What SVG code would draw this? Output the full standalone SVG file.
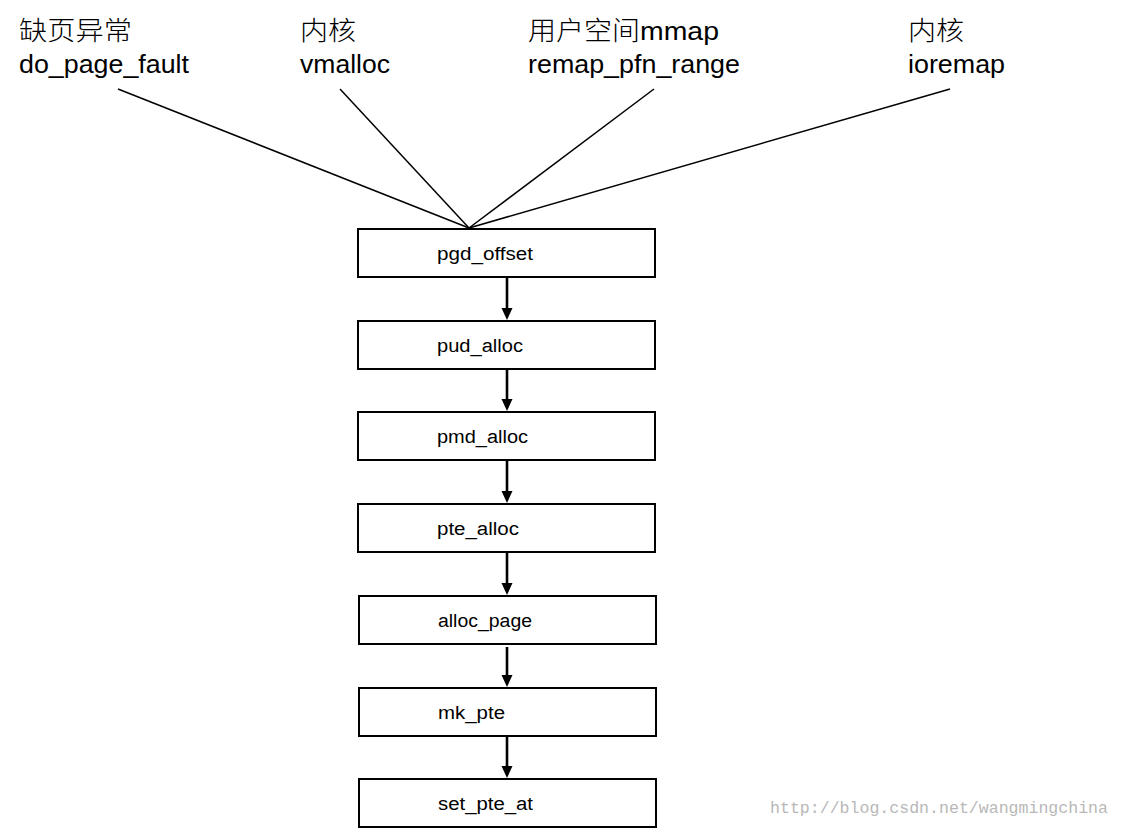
<svg xmlns="http://www.w3.org/2000/svg" width="1121" height="829" viewBox="0 0 1121 829">
<style>
.box{fill:#fff;stroke:#000;stroke-width:2}
.lbl{font-family:"Liberation Sans","Noto Sans CJK SC",sans-serif;font-size:18px;fill:#000}
.top{font-family:"Liberation Sans","Noto Sans CJK SC",sans-serif;font-size:25px;fill:#000}
.cjk{font-family:"Noto Sans CJK SC",sans-serif;font-size:26px;font-weight:300;fill:#000}
.src{stroke:#000;stroke-width:1.5;fill:none}
.shaft{stroke:#000;stroke-width:2.6;fill:none}
.head{fill:#000}
</style>
<rect width="1121" height="829" fill="#fff"/>
<g id="labels">
<text class="cjk" x="19" y="40" textLength="113" lengthAdjust="spacingAndGlyphs">缺页异常</text>
<text class="top" x="19" y="73" textLength="170" lengthAdjust="spacingAndGlyphs">do_page_fault</text>
<text class="cjk" x="300" y="40" textLength="56" lengthAdjust="spacingAndGlyphs">内核</text>
<text class="top" x="300" y="73" textLength="90" lengthAdjust="spacingAndGlyphs">vmalloc</text>
<text x="528" y="40"><tspan class="cjk" textLength="112" lengthAdjust="spacingAndGlyphs">用户空间</tspan><tspan class="top" textLength="79" lengthAdjust="spacingAndGlyphs">mmap</tspan></text>
<text class="top" x="528" y="73" textLength="212" lengthAdjust="spacingAndGlyphs">remap_pfn_range</text>
<text class="cjk" x="908" y="40" textLength="56" lengthAdjust="spacingAndGlyphs">内核</text>
<text class="top" x="908" y="73" textLength="97" lengthAdjust="spacingAndGlyphs">ioremap</text>
</g>
<g id="connectors">
<line class="src" x1="118" y1="89" x2="469" y2="228"/>
<line class="src" x1="340" y1="89" x2="469" y2="228"/>
<line class="src" x1="654" y1="89" x2="469" y2="228"/>
<line class="src" x1="950" y1="89" x2="469" y2="228"/>
<path class="shaft" d="M507,278 V310"/><path class="head" d="M501.5,308 L512.5,308 L507,320 Z"/>
<path class="shaft" d="M507,370 V402"/><path class="head" d="M501.5,399 L512.5,399 L507,411 Z"/>
<path class="shaft" d="M507,461 V494"/><path class="head" d="M501.5,491 L512.5,491 L507,503 Z"/>
<path class="shaft" d="M507,553 V586"/><path class="head" d="M501.5,583 L512.5,583 L507,595 Z"/>
<path class="shaft" d="M507,647 V678"/><path class="head" d="M501.5,675 L512.5,675 L507,687 Z"/>
<path class="shaft" d="M507,737 V769"/><path class="head" d="M501.5,766 L512.5,766 L507,778 Z"/>
</g>
<g id="pgd_offset"><rect class="box" x="358" y="229" width="297" height="48"/><text class="lbl" x="437" y="260" textLength="96" lengthAdjust="spacingAndGlyphs">pgd_offset</text></g>
<g id="pud_alloc"><rect class="box" x="358" y="321" width="297" height="48"/><text class="lbl" x="437" y="352" textLength="86" lengthAdjust="spacingAndGlyphs">pud_alloc</text></g>
<g id="pmd_alloc"><rect class="box" x="358" y="412" width="297" height="48"/><text class="lbl" x="437" y="443" textLength="91" lengthAdjust="spacingAndGlyphs">pmd_alloc</text></g>
<g id="pte_alloc"><rect class="box" x="358" y="504" width="297" height="48"/><text class="lbl" x="437" y="535" textLength="82" lengthAdjust="spacingAndGlyphs">pte_alloc</text></g>
<g id="alloc_page"><rect class="box" x="359" y="596" width="297" height="48"/><text class="lbl" x="438" y="627" textLength="94" lengthAdjust="spacingAndGlyphs">alloc_page</text></g>
<g id="mk_pte"><rect class="box" x="359" y="688" width="297" height="48"/><text class="lbl" x="438" y="719" textLength="67" lengthAdjust="spacingAndGlyphs">mk_pte</text></g>
<g id="set_pte_at"><rect class="box" x="359" y="779" width="297" height="48"/><text class="lbl" x="438" y="810" textLength="95" lengthAdjust="spacingAndGlyphs">set_pte_at</text></g>
<text x="770" y="813" font-family="Liberation Mono, monospace" font-size="16" fill="#b8b8b8" textLength="338" lengthAdjust="spacingAndGlyphs">http://blog.csdn.net/wangmingchina</text>
</svg>
